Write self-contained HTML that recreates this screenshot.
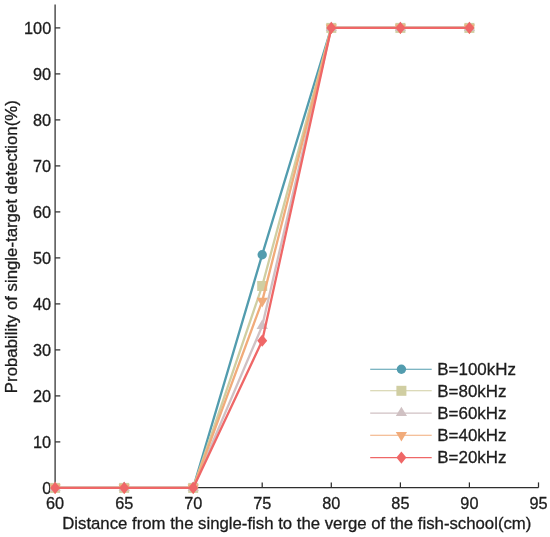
<!DOCTYPE html><html><head><meta charset="utf-8"><title>chart</title><style>html,body{margin:0;padding:0;background:#fff}svg{display:block}text{font-family:"Liberation Sans",Arial,sans-serif;fill:#1c1c1c;stroke:#1c1c1c;stroke-width:0.3px}</style></head><body>
<svg width="550" height="537" viewBox="0 0 550 537">
<rect width="550" height="537" fill="#fff"/>
<g stroke="#2e2e2e" stroke-width="1.25" fill="none">
<path d="M55.1 4.5V487.6H538.5"/>
<path d="M55.1 487.9h5.2"/>
<path d="M55.1 441.9h5.2"/>
<path d="M55.1 395.9h5.2"/>
<path d="M55.1 349.9h5.2"/>
<path d="M55.1 303.9h5.2"/>
<path d="M55.1 257.9h5.2"/>
<path d="M55.1 211.9h5.2"/>
<path d="M55.1 165.9h5.2"/>
<path d="M55.1 119.9h5.2"/>
<path d="M55.1 73.9h5.2"/>
<path d="M55.1 27.9h5.2"/>
<path d="M55.1 487.6v-5.2"/>
<path d="M124.2 487.6v-5.2"/>
<path d="M193.2 487.6v-5.2"/>
<path d="M262.2 487.6v-5.2"/>
<path d="M331.3 487.6v-5.2"/>
<path d="M400.4 487.6v-5.2"/>
<path d="M469.4 487.6v-5.2"/>
<path d="M538.5 487.6v-5.2"/>
</g>
<g font-size="16.3">
<text x="51.2" y="494.3" text-anchor="end">0</text>
<text x="51.2" y="448.3" text-anchor="end">10</text>
<text x="51.2" y="402.3" text-anchor="end">20</text>
<text x="51.2" y="356.3" text-anchor="end">30</text>
<text x="51.2" y="310.3" text-anchor="end">40</text>
<text x="51.2" y="264.3" text-anchor="end">50</text>
<text x="51.2" y="218.3" text-anchor="end">60</text>
<text x="51.2" y="172.3" text-anchor="end">70</text>
<text x="51.2" y="126.3" text-anchor="end">80</text>
<text x="51.2" y="80.4" text-anchor="end">90</text>
<text x="51.2" y="34.4" text-anchor="end">100</text>
<text x="55.1" y="508.7" text-anchor="middle">60</text>
<text x="124.2" y="508.7" text-anchor="middle">65</text>
<text x="193.2" y="508.7" text-anchor="middle">70</text>
<text x="262.2" y="508.7" text-anchor="middle">75</text>
<text x="331.3" y="508.7" text-anchor="middle">80</text>
<text x="400.4" y="508.7" text-anchor="middle">85</text>
<text x="469.4" y="508.7" text-anchor="middle">90</text>
<text x="538.5" y="508.7" text-anchor="middle">95</text>
</g>
<text x="296.8" y="529.4" font-size="16.75" text-anchor="middle">Distance from the single-fish to the verge of the fish-school(cm)</text>
<text transform="translate(16.7,246.7) rotate(-90)" font-size="16.8" text-anchor="middle">Probability of single-target detection(%)</text>
<polyline points="55.1,487.9 124.2,487.9 193.2,487.9 262.2,254.7 331.3,27.9 400.4,27.9 469.4,27.9" fill="none" stroke="#529cae" stroke-width="2.3" stroke-linejoin="round"/>
<circle cx="55.1" cy="487.9" r="4.70" fill="#529cae"/>
<circle cx="124.2" cy="487.9" r="4.70" fill="#529cae"/>
<circle cx="193.2" cy="487.9" r="4.70" fill="#529cae"/>
<circle cx="262.2" cy="254.7" r="4.70" fill="#529cae"/>
<circle cx="331.3" cy="27.9" r="4.70" fill="#529cae"/>
<circle cx="400.4" cy="27.9" r="4.70" fill="#529cae"/>
<circle cx="469.4" cy="27.9" r="4.70" fill="#529cae"/>
<polyline points="55.1,487.9 124.2,487.9 193.2,487.9 262.2,286.0 331.3,27.9 400.4,27.9 469.4,27.9" fill="none" stroke="#d0cea2" stroke-width="2.3" stroke-linejoin="round"/>
<rect x="50.1" y="482.9" width="10.0" height="10.0" fill="#d0cea2"/>
<rect x="119.2" y="482.9" width="10.0" height="10.0" fill="#d0cea2"/>
<rect x="188.2" y="482.9" width="10.0" height="10.0" fill="#d0cea2"/>
<rect x="257.2" y="281.0" width="10.0" height="10.0" fill="#d0cea2"/>
<rect x="326.3" y="22.9" width="10.0" height="10.0" fill="#d0cea2"/>
<rect x="395.4" y="22.9" width="10.0" height="10.0" fill="#d0cea2"/>
<rect x="464.4" y="22.9" width="10.0" height="10.0" fill="#d0cea2"/>
<polyline points="55.1,487.9 124.2,487.9 193.2,487.9 262.2,326.0 331.3,27.9 400.4,27.9 469.4,27.9" fill="none" stroke="#d0c1c3" stroke-width="2.3" stroke-linejoin="round"/>
<polygon points="55.1,481.5 49.5,490.9 60.7,490.9" fill="#d0c1c3"/>
<polygon points="124.2,481.5 118.6,490.9 129.8,490.9" fill="#d0c1c3"/>
<polygon points="193.2,481.5 187.6,490.9 198.8,490.9" fill="#d0c1c3"/>
<polygon points="262.2,319.6 256.6,329.0 267.9,329.0" fill="#d0c1c3"/>
<polygon points="331.3,21.5 325.7,30.9 336.9,30.9" fill="#d0c1c3"/>
<polygon points="400.4,21.5 394.8,30.9 406.0,30.9" fill="#d0c1c3"/>
<polygon points="469.4,21.5 463.8,30.9 475.0,30.9" fill="#d0c1c3"/>
<polyline points="55.1,487.9 124.2,487.9 193.2,487.9 262.2,301.1 331.3,27.9 400.4,27.9 469.4,27.9" fill="none" stroke="#f1ab7a" stroke-width="2.3" stroke-linejoin="round"/>
<polygon points="55.1,494.3 49.5,484.6 60.7,484.6" fill="#f1ab7a"/>
<polygon points="124.2,494.3 118.6,484.6 129.8,484.6" fill="#f1ab7a"/>
<polygon points="193.2,494.3 187.6,484.6 198.8,484.6" fill="#f1ab7a"/>
<polygon points="262.2,307.5 256.6,297.8 267.9,297.8" fill="#f1ab7a"/>
<polygon points="331.3,34.3 325.7,24.6 336.9,24.6" fill="#f1ab7a"/>
<polygon points="400.4,34.3 394.8,24.6 406.0,24.6" fill="#f1ab7a"/>
<polygon points="469.4,34.3 463.8,24.6 475.0,24.6" fill="#f1ab7a"/>
<polyline points="55.1,487.9 124.2,487.9 193.2,487.9 262.2,340.7 331.3,27.9 400.4,27.9 469.4,27.9" fill="none" stroke="#ef6767" stroke-width="2.3" stroke-linejoin="round"/>
<polygon points="55.1,481.8 60.1,487.9 55.1,494.0 50.1,487.9" fill="#ef6767"/>
<polygon points="124.2,481.8 129.2,487.9 124.2,494.0 119.2,487.9" fill="#ef6767"/>
<polygon points="193.2,481.8 198.2,487.9 193.2,494.0 188.2,487.9" fill="#ef6767"/>
<polygon points="262.2,334.6 267.2,340.7 262.2,346.8 257.2,340.7" fill="#ef6767"/>
<polygon points="331.3,21.8 336.3,27.9 331.3,34.0 326.3,27.9" fill="#ef6767"/>
<polygon points="400.4,21.8 405.4,27.9 400.4,34.0 395.4,27.9" fill="#ef6767"/>
<polygon points="469.4,21.8 474.4,27.9 469.4,34.0 464.4,27.9" fill="#ef6767"/>
<path d="M370.2 369.2H431.7" stroke="#529cae" stroke-width="1.1"/>
<circle cx="401.4" cy="369.2" r="4.70" fill="#529cae"/>
<text x="437.3" y="374.9" font-size="16.95">B=100kHz</text>
<path d="M370.2 390.8H431.7" stroke="#d0cea2" stroke-width="1.1"/>
<rect x="396.4" y="385.8" width="10.0" height="10.0" fill="#d0cea2"/>
<text x="437.3" y="396.5" font-size="16.95">B=80kHz</text>
<path d="M370.2 413.1H431.7" stroke="#d0c1c3" stroke-width="1.1"/>
<polygon points="401.4,406.7 395.8,416.1 407.0,416.1" fill="#d0c1c3"/>
<text x="437.3" y="418.8" font-size="16.95">B=60kHz</text>
<path d="M370.2 435.2H431.7" stroke="#f1ab7a" stroke-width="1.1"/>
<polygon points="401.4,441.6 395.8,431.9 407.0,431.9" fill="#f1ab7a"/>
<text x="437.3" y="440.9" font-size="16.95">B=40kHz</text>
<path d="M370.2 457.6H431.7" stroke="#ef6767" stroke-width="1.1"/>
<polygon points="401.4,451.5 406.4,457.6 401.4,463.7 396.4,457.6" fill="#ef6767"/>
<text x="437.3" y="463.3" font-size="16.95">B=20kHz</text>
</svg></body></html>
